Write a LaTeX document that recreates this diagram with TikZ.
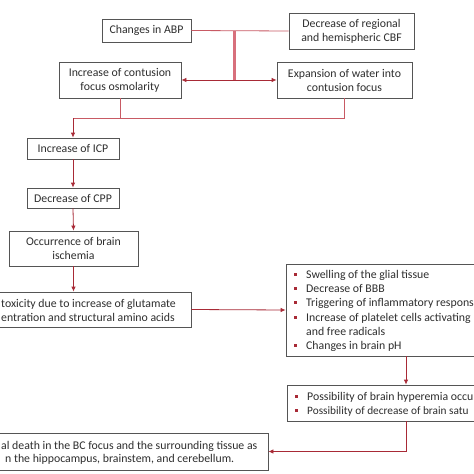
\documentclass[tikz,border=0pt]{standalone}
\usepackage{fontspec}
\setmainfont{Carlito}
\usetikzlibrary{arrows.meta}
\definecolor{boxc}{HTML}{555555}
\definecolor{txtc}{HTML}{2E2E2E}
\definecolor{lnc}{HTML}{C85A64}
\definecolor{arc}{HTML}{A82A36}
\definecolor{thk}{HTML}{D8707C}
\begin{document}
\begin{tikzpicture}[x=1pt,y=-1pt,
  font=\fontsize{11.8}{14}\selectfont, text=txtc,
  box/.style={draw=boxc, line width=0.8pt, inner sep=0pt, align=center, fill=white},
  thin/.style={draw=lnc, line width=0.8pt},
  arr/.style={draw=arc, line width=0.8pt, -{Latex[length=5pt,width=4.5pt]}},
  thick/.style={draw=thk, line width=3pt},
  bl/.style={fill=arc, minimum size=3pt, inner sep=0pt},
  lt/.style={anchor=base west, inner sep=0pt}]
\useasboundingbox (0,0) rectangle (474,474);
\fill[white] (0,0) rectangle (474,474);
\clip (0,0) rectangle (474,474);

\node[box, minimum width=89pt, minimum height=23pt] (abp) at (146.5,30.5) {Changes in ABP};
\node[box, minimum width=125pt, minimum height=36pt] (cbf) at (351.5,31) {Decrease of regional\\and hemispheric CBF};
\node[box, minimum width=122pt, minimum height=36pt] (osm) at (120,80) {Increase of contusion\\focus osmolarity};
\node[box, minimum width=135pt, minimum height=36pt] (wat) at (344.5,80) {Expansion of water into\\contusion focus};
\node[box, minimum width=92pt, minimum height=21pt] (icp) at (73,148.5) {Increase of ICP};
\node[box, minimum width=92pt, minimum height=20pt] (cpp) at (73,198) {Decrease of CPP};
\node[box, minimum width=129pt, minimum height=35pt] (isch) at (73.5,248.5) {Occurrence of brain\\ischemia};
\node[box, minimum width=251pt, minimum height=35pt] (exc) at (65.5,309.5) {};
\node[lt] (exc1) at (1,307) {toxicity due to increase of glutamate};
\node[lt] (exc2) at (1,321) {entration and structural amino acids};
\node[box, minimum width=240pt, minimum height=92pt] (bul) at (406,310) {};
\node[box, minimum width=238pt, minimum height=36pt] (hyp) at (406,403) {};
\node[box, minimum width=328pt, minimum height=37pt] (neu) at (104,451.5) {};
\node[lt] (neu1) at (1,449) {al death in the BC focus and the surrounding tissue as};
\node[lt] (neu2) at (5,462) {n the hippocampus, brainstem, and cerebellum.};

% bullet list 1
\node[bl] (b1) at (295,274) {}; \node[lt] (t1) at (306,278) {Swelling of the glial tissue};
\node[bl] (b2) at (295,288) {}; \node[lt] (t2) at (306,292) {Decrease of BBB};
\node[bl] (b3) at (295,302) {}; \node[lt] (t3) at (306,306) {Triggering of inflammatory respons};
\node[bl] (b4) at (295,317) {}; \node[lt] (t4) at (306,321) {Increase of platelet cells activating};
\node[lt] (t4b) at (306,335) {and free radicals};
\node[bl] (b5) at (295,345) {}; \node[lt] (t5) at (306,349) {Changes in brain pH};
% bullet list 2
\node[bl] (c1) at (296,396) {}; \node[lt] (u1) at (307,400) {Possibility of brain hyperemia occu};
\node[bl] (c2) at (296,410) {}; \node[lt, font=\fontsize{11.3}{14}\selectfont] (u2) at (307,414) {Possibility of decrease of brain satu};

% connectors
\coordinate (j1) at (234,31);
\coordinate (j2) at (234,80);
\coordinate (m) at (73,118);
\draw[thin] (abp.east) -- (cbf.west);
\draw[thick] (j1) -- (j2);
\draw[arr] (j2) -- (osm.east);
\draw[arr] (j2) -- (wat.west);
\draw[thin] (osm.south) -- (osm.south |- m);
\draw[thin] (wat.south) |- (m);
\draw[arr] (m) -- (icp.north);
\draw[arr] (icp.south) -- (cpp.north);
\draw[arr] (cpp.south) -- (isch.north);
\draw[arr] (isch.south) -- (isch.south |- exc.north);
\draw[arr] (exc.east) -- (bul.west);
\draw[arr] (bul.south) -- (hyp.north);
\draw[arr] (hyp.south) |- (neu.east);
\end{tikzpicture}
\end{document}
